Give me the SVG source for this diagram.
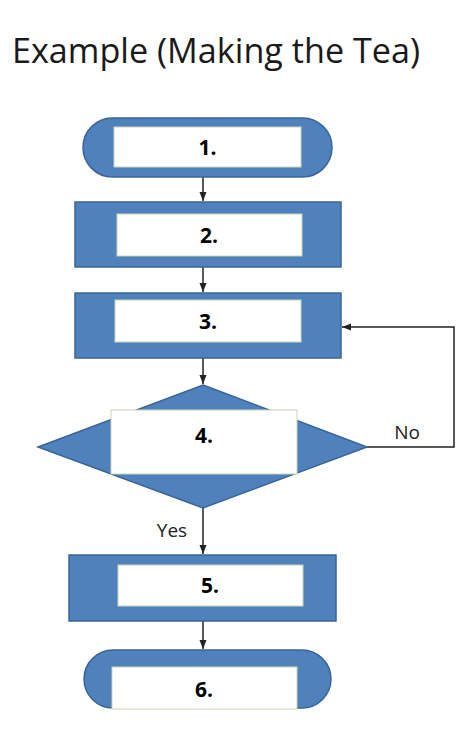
<svg xmlns="http://www.w3.org/2000/svg" width="474" height="740" viewBox="0 0 474 740">
<style>
.shape{fill:#4f81bd;stroke:#3a6496;stroke-width:1.5}
.inner{fill:#ffffff;stroke:#c9d6b0;stroke-width:1}
.lbl{font-family:"Open Sans","Liberation Sans",sans-serif;font-weight:bold;font-size:21px;fill:#000;text-anchor:middle}
.edge{font-family:"Open Sans","Liberation Sans",sans-serif;font-size:19px;fill:#222;text-anchor:middle}
.conn{fill:none;stroke:#222;stroke-width:1.5}
</style>
<defs>
<marker id="ah" markerWidth="10" markerHeight="10" refX="9" refY="5" orient="auto" markerUnits="userSpaceOnUse">
<path d="M0,1.5 L9,5 L0,8.5 Z" fill="#222"/>
</marker>
</defs>
<rect width="474" height="740" fill="#ffffff"/>
<text x="12" y="63" font-family="'Open Sans','Liberation Sans',sans-serif" font-size="34" fill="#1a1a1a" textLength="408" lengthAdjust="spacingAndGlyphs">Example (Making the Tea)</text>

<g id="connectors">
<line class="conn" x1="203" y1="177" x2="203" y2="201" marker-end="url(#ah)"/>
<line class="conn" x1="203" y1="267" x2="203" y2="292" marker-end="url(#ah)"/>
<line class="conn" x1="203" y1="358" x2="203" y2="384" marker-end="url(#ah)"/>
<line class="conn" x1="203" y1="508" x2="203" y2="554" marker-end="url(#ah)"/>
<line class="conn" x1="203" y1="621" x2="203" y2="649" marker-end="url(#ah)"/>
<polyline class="conn" points="367,447 454,447 454,327 342,327" marker-end="url(#ah)"/>
<text class="edge" x="407" y="439">No</text>
<text class="edge" x="172" y="537">Yes</text>
</g>

<g id="node1">
<rect class="shape" x="83" y="118" width="249" height="59" rx="29.5" ry="29.5"/>
<rect class="inner" x="114" y="127" width="187" height="40"/>
<text class="lbl" x="207.5" y="155">1.</text>
</g>

<g id="node2">
<rect class="shape" x="75" y="202" width="266" height="65"/>
<rect class="inner" x="117" y="214" width="185" height="42"/>
<text class="lbl" x="209" y="243">2.</text>
</g>

<g id="node3">
<rect class="shape" x="75" y="293" width="266" height="65"/>
<rect class="inner" x="115" y="300" width="186" height="42"/>
<text class="lbl" x="208" y="329">3.</text>
</g>

<g id="node4">
<polygon class="shape" points="203,385 367,447 203,508 38,447"/>
<rect class="inner" x="111" y="410" width="186" height="64"/>
<text class="lbl" x="204" y="443">4.</text>
</g>

<g id="node5">
<rect class="shape" x="69" y="555" width="267" height="66"/>
<rect class="inner" x="118" y="565" width="185" height="41"/>
<text class="lbl" x="210" y="593">5.</text>
</g>

<g id="node6">
<rect class="shape" x="84" y="650" width="247" height="58" rx="29" ry="29"/>
<rect class="inner" x="112" y="667" width="185" height="42"/>
<text class="lbl" x="204" y="697">6.</text>
</g>
</svg>
